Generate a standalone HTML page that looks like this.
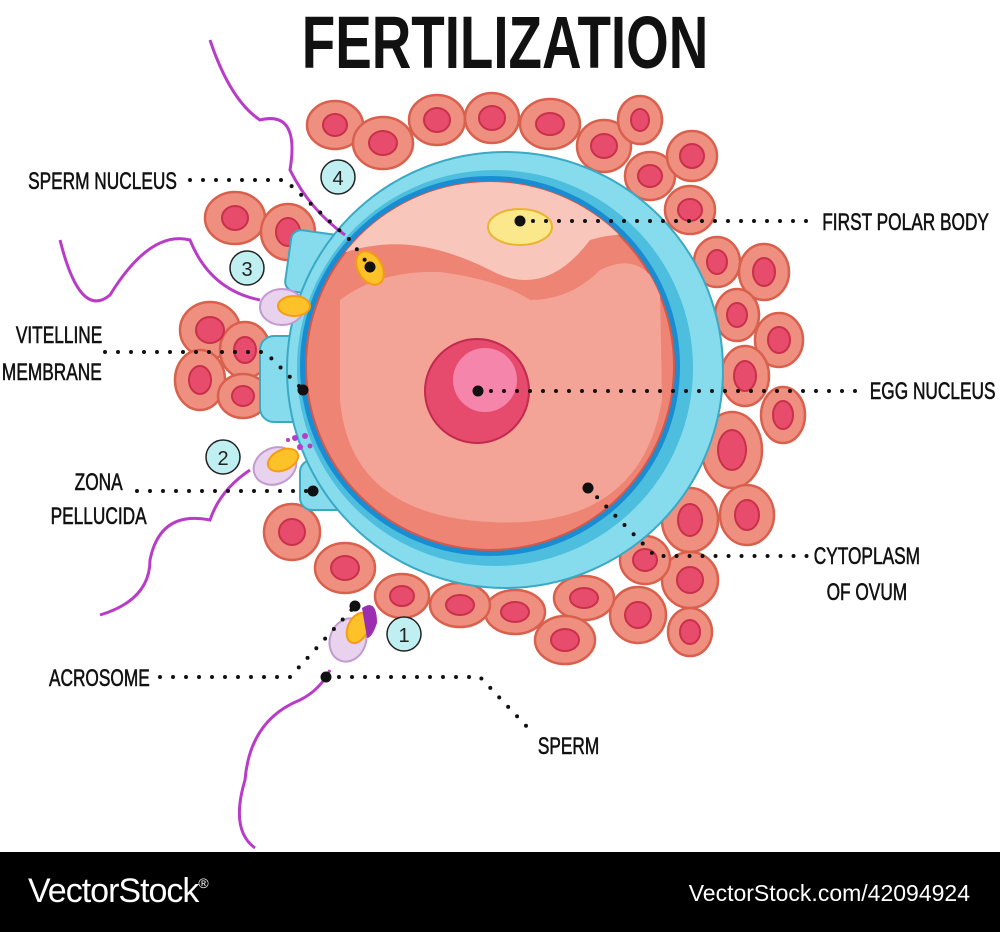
<!DOCTYPE html><html><head><style>body{margin:0;background:#fff}svg{display:block}text{font-family:"Liberation Sans",sans-serif}</style></head><body>
<svg width="1000" height="932" viewBox="0 0 1000 932">
<defs><clipPath id="cy"><circle cx="490" cy="366" r="184"/></clipPath></defs>
<text x="505" y="68" text-anchor="middle" font-size="74" font-weight="bold" transform="translate(505,0) scale(0.74,1) translate(-505,0)" fill="#111">FERTILIZATION</text>
<g stroke="#d9604c" stroke-width="2.5">
<g fill="#ef8f80">
<ellipse cx="335" cy="125" rx="28" ry="24"/><ellipse cx="383" cy="143" rx="30" ry="26"/><ellipse cx="437" cy="120" rx="28" ry="25"/><ellipse cx="492" cy="118" rx="27" ry="25"/><ellipse cx="550" cy="124" rx="30" ry="25"/><ellipse cx="604" cy="146" rx="27" ry="26"/><ellipse cx="640" cy="120" rx="22" ry="24"/><ellipse cx="650" cy="176" rx="25" ry="24"/><ellipse cx="692" cy="156" rx="25" ry="25"/><ellipse cx="690" cy="210" rx="25" ry="24"/><ellipse cx="717" cy="262" rx="23" ry="25"/><ellipse cx="764" cy="272" rx="25" ry="28"/><ellipse cx="737" cy="315" rx="22" ry="26"/><ellipse cx="779" cy="340" rx="24" ry="27"/><ellipse cx="745" cy="376" rx="24" ry="30"/><ellipse cx="783" cy="415" rx="22" ry="28"/><ellipse cx="732" cy="450" rx="30" ry="38"/><ellipse cx="747" cy="515" rx="27" ry="30"/><ellipse cx="690" cy="520" rx="28" ry="32"/><ellipse cx="690" cy="580" rx="28" ry="28"/><ellipse cx="645" cy="560" rx="25" ry="24"/><ellipse cx="638" cy="615" rx="28" ry="28"/><ellipse cx="690" cy="632" rx="22" ry="24"/><ellipse cx="584" cy="598" rx="30" ry="22"/><ellipse cx="565" cy="640" rx="30" ry="24"/><ellipse cx="515" cy="612" rx="30" ry="22"/><ellipse cx="460" cy="605" rx="30" ry="22"/><ellipse cx="402" cy="596" rx="27" ry="22"/><ellipse cx="345" cy="568" rx="30" ry="25"/><ellipse cx="292" cy="532" rx="28" ry="28"/><ellipse cx="235" cy="218" rx="30" ry="26"/><ellipse cx="288" cy="232" rx="27" ry="28"/><ellipse cx="210" cy="330" rx="30" ry="28"/><ellipse cx="245" cy="350" rx="25" ry="28"/><ellipse cx="200" cy="380" rx="25" ry="30"/><ellipse cx="243" cy="396" rx="25" ry="22"/>
</g>
<g fill="#e84c6c" stroke="#c9304a" stroke-width="2">
<ellipse cx="335" cy="125" rx="12" ry="11"/><ellipse cx="383" cy="143" rx="14" ry="12"/><ellipse cx="437" cy="120" rx="13" ry="12"/><ellipse cx="492" cy="118" rx="13" ry="12"/><ellipse cx="550" cy="124" rx="14" ry="11"/><ellipse cx="604" cy="146" rx="13" ry="12"/><ellipse cx="640" cy="120" rx="9" ry="11"/><ellipse cx="650" cy="176" rx="12" ry="11"/><ellipse cx="692" cy="156" rx="12" ry="12"/><ellipse cx="690" cy="210" rx="12" ry="11"/><ellipse cx="717" cy="262" rx="10" ry="12"/><ellipse cx="764" cy="272" rx="11" ry="14"/><ellipse cx="737" cy="315" rx="10" ry="12"/><ellipse cx="779" cy="340" rx="11" ry="13"/><ellipse cx="745" cy="376" rx="11" ry="15"/><ellipse cx="783" cy="415" rx="10" ry="14"/><ellipse cx="732" cy="450" rx="14" ry="20"/><ellipse cx="747" cy="515" rx="12" ry="15"/><ellipse cx="690" cy="520" rx="12" ry="16"/><ellipse cx="690" cy="580" rx="13" ry="13"/><ellipse cx="645" cy="560" rx="12" ry="11"/><ellipse cx="638" cy="615" rx="13" ry="13"/><ellipse cx="690" cy="632" rx="10" ry="12"/><ellipse cx="584" cy="598" rx="14" ry="10"/><ellipse cx="565" cy="640" rx="14" ry="11"/><ellipse cx="515" cy="612" rx="14" ry="10"/><ellipse cx="460" cy="605" rx="14" ry="10"/><ellipse cx="402" cy="596" rx="12" ry="10"/><ellipse cx="345" cy="568" rx="14" ry="12"/><ellipse cx="292" cy="532" rx="13" ry="13"/><ellipse cx="235" cy="218" rx="13" ry="12"/><ellipse cx="288" cy="232" rx="12" ry="14"/><ellipse cx="210" cy="330" rx="14" ry="13"/><ellipse cx="245" cy="350" rx="11" ry="13"/><ellipse cx="200" cy="380" rx="11" ry="14"/><ellipse cx="243" cy="396" rx="11" ry="10"/>
</g></g>
<!-- zona -->
<g fill="#86dbec" stroke="#3aa9c4" stroke-width="2">
<rect x="288" y="232" width="50" height="62" rx="10" transform="rotate(8 313 263)"/>
<rect x="260" y="336" width="70" height="86" rx="14"/>
<rect x="300" y="460" width="50" height="50" rx="12"/>
<circle cx="505" cy="370" r="218"/>
</g>
<circle cx="495" cy="368" r="198" fill="#4dbedd"/>
<circle cx="490" cy="366" r="190" fill="#1a8dd2"/>
<circle cx="490" cy="366" r="184" fill="#ee8474" stroke="#d4584c" stroke-width="2"/>
<g clip-path="url(#cy)">
<path d="M300 180 L690 180 L690 250 Q640 225 590 240 Q545 300 490 270 Q430 240 380 245 Q330 250 300 280 Z" fill="#f8c6bb"/>
<path d="M340 300 Q380 270 440 272 Q500 280 530 300 Q570 300 600 270 Q640 250 660 290 L662 400 Q640 530 490 522 Q350 515 340 400 Z" fill="#f4a496"/>
</g>
<ellipse cx="520" cy="227" rx="32" ry="18" fill="#fbe78c" stroke="#e8b530" stroke-width="2"/>
<circle cx="477" cy="391" r="52" fill="#e64a6c" stroke="#c22a4e" stroke-width="2"/>
<circle cx="485" cy="380" r="32" fill="#f685ab"/>
<!-- sperms -->
<g fill="none" stroke="#b83cc7" stroke-width="3">
<path d="M210 40 Q230 100 260 120 Q300 110 290 170 Q310 210 345 235"/>
<path d="M60 240 Q80 320 110 295 Q150 230 190 240 Q210 290 260 300"/>
<path d="M100 615 Q150 600 150 560 Q160 510 210 520 Q220 490 250 470"/>
<path d="M255 848 Q230 830 245 780 Q250 720 300 700 Q320 690 330 670"/>
</g>
<g fill="#e8d2ee" stroke="#c39ad0" stroke-width="2">
<ellipse cx="282" cy="307" rx="22" ry="18"/><ellipse cx="275" cy="466" rx="22" ry="18" transform="rotate(-25 275 466)"/><ellipse cx="348" cy="640" rx="18" ry="22" transform="rotate(20 348 640)"/>
</g>
<g fill="#fdc22a" stroke="#f59d12" stroke-width="2">
<ellipse cx="294" cy="306" rx="16" ry="10"/><ellipse cx="283" cy="460" rx="16" ry="10" transform="rotate(-25 283 460)"/><ellipse cx="358" cy="628" rx="10" ry="16" transform="rotate(25 358 628)"/><ellipse cx="370" cy="268" rx="12" ry="18" transform="rotate(-30 370 268)"/>
</g>
<path d="M362 608 q15 -10 15 15 q-5 15 -10 15" fill="#9b2fb0"/>
<g fill="#b83cc7"><circle cx="295" cy="438" r="3"/><circle cx="305" cy="436" r="3"/><circle cx="300" cy="447" r="3"/><circle cx="310" cy="446" r="2.5"/><circle cx="288" cy="440" r="2"/></g>
<g fill="#bfeff0" stroke="#222" stroke-width="1.5">
<circle cx="338" cy="177" r="17"/><circle cx="247" cy="268" r="17"/><circle cx="223" cy="457" r="17"/><circle cx="404" cy="634" r="17"/></g>
<g font-size="20" text-anchor="middle" fill="#222"><text x="338" y="185">4</text><text x="247" y="276">3</text><text x="223" y="465">2</text><text x="404" y="642">1</text></g>
<!-- leaders -->
<g fill="none" stroke="#111" stroke-width="4" stroke-linecap="round" stroke-dasharray="0 13">
<path d="M190 180 L285 180 L350 240 L370 267"/>
<path d="M520 221 L815 221"/>
<path d="M105 352 L265 352 L303 390"/>
<path d="M478 391 L860 391"/>
<path d="M137 491 L313 491"/>
<path d="M588 488 L655 556 L815 556"/>
<path d="M160 677 L290 677 L355 606"/>
<path d="M326 677 L480 677 L530 730"/>
</g>
<g fill="#111"><circle cx="370" cy="267" r="5.5"/><circle cx="520" cy="221" r="5.5"/><circle cx="303" cy="390" r="5.5"/><circle cx="478" cy="391" r="5.5"/><circle cx="313" cy="491" r="5.5"/><circle cx="588" cy="488" r="5.5"/><circle cx="355" cy="606" r="5.5"/><circle cx="326" cy="677" r="5.5"/></g>
<g font-size="24" fill="#111" stroke="#111" stroke-width="0.6" transform="scale(0.72,1)">
<text x="39" y="189">SPERM NUCLEUS</text>
<text x="1142" y="230">FIRST POLAR BODY</text>
<text x="82" y="343" text-anchor="middle">VITELLINE</text>
<text x="72" y="380" text-anchor="middle">MEMBRANE</text>
<text x="1208" y="399">EGG NUCLEUS</text>
<text x="137" y="490" text-anchor="middle">ZONA</text>
<text x="137" y="524" text-anchor="middle">PELLUCIDA</text>
<text x="1204" y="564" text-anchor="middle">CYTOPLASM</text>
<text x="1204" y="600" text-anchor="middle">OF OVUM</text>
<text x="68" y="686">ACROSOME</text>
<text x="747" y="754">SPERM</text>
</g>
<rect x="0" y="852" width="1000" height="80" fill="#000"/>
<text x="28" y="902" font-size="34" fill="#fff" letter-spacing="-1">VectorStock<tspan font-size="14" dy="-14">®</tspan></text>
<text x="970" y="901" font-size="23" fill="#fff" text-anchor="end">VectorStock.com/42094924</text>
</svg></body></html>
